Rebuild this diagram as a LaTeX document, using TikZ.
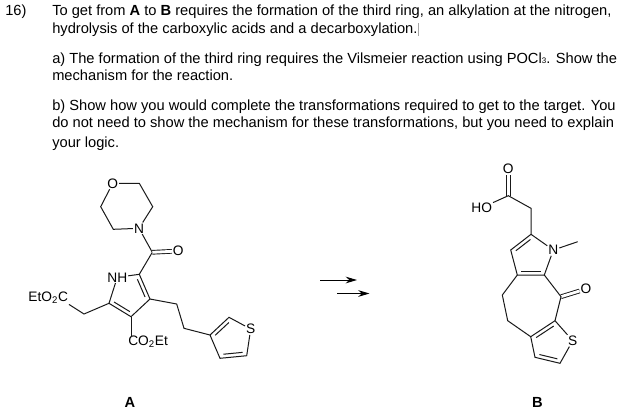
\documentclass[tikz,border=0pt]{standalone}
\usepackage{fontspec}
\setmainfont{Liberation Sans}
\usetikzlibrary{calc,arrows.meta}
\tikzset{
  para/.style={anchor=base west,inner sep=0pt,font=\fontsize{11pt}{13pt}\selectfont},
  atom/.style={inner sep=0.6pt,font=\fontsize{10.3pt}{12pt}\selectfont},
  bond/.style={line width=0.75pt,black!90},
  dbond/.style={line width=0.7pt,black!90,double,double distance=2.1pt},
  rxn/.style={line width=0.75pt,-{Stealth[length=8.5pt,width=5pt]}},
  mark label/.style={inner sep=0pt,font=\fontsize{11pt}{13pt}\selectfont\bfseries}
}
% inner line of a ring double bond: from, to, signed offset
\newcommand{\innerbond}[3]{\draw[bond] ($(#1)!.14!(#2)!#3!90:(#2)$) -- ($(#2)!.14!(#1)!-#3!90:(#1)$);}
\begin{document}
\begin{tikzpicture}[x=0.75pt,y=-0.75pt]
\useasboundingbox (0,0) rectangle (620,412);
\fill[white] (0,0) rectangle (620,412);
% question text
\node[para] (num) at (5,15.5) {16)};
\node[para] (l1) at (52,15.5) {To get from \textbf{A} to \textbf{B} requires the formation of the third ring, an alkylation at the nitrogen,};
\node[para] (l2) at (52,33) {hydrolysis of the carboxylic acids and a decarboxylation.};
\node[para] (l3) at (52,63) {a) The formation of the third ring requires the Vilsmeier reaction using POCl{\fontsize{6pt}{7pt}\selectfont 3}. Show the};
\node[para] (l4) at (52,80.5) {mechanism for the reaction.};
\node[para] (l5) at (52,110) {b) Show how you would complete the transformations required to get to the target. You};
\node[para] (l6) at (52,127.5) {do not need to show the mechanism for these transformations, but you need to explain};
\node[para] (l7) at (52,147) {your logic.};
\coordinate (curT) at (418,23);
\coordinate (curB) at (418,36);
\draw[black!35,line width=0.5pt] (curT) -- (curB);
% molecule A
\node[atom] (aO) at (112.7,183.3) {O};
\coordinate (am1) at (139.3,183.3);
\coordinate (am2) at (152.7,206.7);
\node[atom] (aN) at (139,228.3) {N};
\coordinate (am3) at (113.3,229.3);
\coordinate (am4) at (100.7,206.7);
\coordinate (aCO) at (152.3,252.3);
\node[atom] (aOx) at (178.3,251) {O};
\coordinate (aC2) at (139.3,274.3);
\node[atom] (aNH) at (117.3,277.3) {NH};
\coordinate (aC5) at (109,303.3);
\coordinate (aC4) at (131,316.7);
\coordinate (aC3) at (150,299);
\coordinate (aCH2) at (84,314);
\node[atom,anchor=east] (aEt) at (69,297.5) {EtO$_{\mathrm{2}}$C};
\node[atom,anchor=west,inner xsep=0pt] (aEster) at (128,342) {CO$_{\mathrm{2}}$Et};
\coordinate (aEsterC) at (131,337);
\coordinate (ach1) at (176.7,304);
\coordinate (ach2) at (184,328.3);
\coordinate (at3) at (210,335);
\coordinate (at2) at (229,317.3);
\node[atom] (aS) at (250.7,329) {S};
\coordinate (at5) at (246.7,355.7);
\coordinate (at4) at (220,358.3);
\draw[bond] (aO) -- (am1) -- (am2) -- (aN) -- (am3) -- (am4) -- (aO);
\draw[bond] (aN) -- (aCO) -- (aC2) -- (aNH) -- (aC5);
\draw[dbond] (aCO) -- (aOx);
\draw[bond] (aC2) -- (aC3) -- (aC4) -- (aC5);
\innerbond{aC2}{aC3}{-2.8pt}
\innerbond{aC4}{aC5}{-2.8pt}
\draw[bond] (aC5) -- (aCH2) -- (aEt.south east);
\draw[bond] (aC4) -- (aEsterC);
\draw[bond] (aC3) -- (ach1) -- (ach2) -- (at3) -- (at2) -- (aS) -- (at5) -- (at4) -- (at3);
\innerbond{at3}{at2}{-2.8pt}
\innerbond{at5}{at4}{-2.8pt}
\node[mark label] (labA) at (130,402) {A};
% reaction arrows
\coordinate (r1a) at (320,280);
\coordinate (r1b) at (357,280);
\coordinate (r2a) at (337,293.5);
\coordinate (r2b) at (369.5,293.5);
\draw[rxn] (r1a) -- (r1b);
\draw[rxn] (r2a) -- (r2b);
% molecule B
\node[atom] (bOt) at (508.3,169) {O};
\coordinate (bC) at (508.3,195.7);
\node[atom] (bHO) at (481.7,207.7) {HO};
\coordinate (bCH2) at (531,208.3);
\coordinate (bC2) at (531,234.3);
\node[atom] (bN) at (553.3,250) {N};
\coordinate (bMe) at (577.7,241.7);
\coordinate (bC3) at (510.7,250);
\coordinate (bC3a) at (517.3,275);
\coordinate (bC7a) at (544.3,275);
\coordinate (bCO) at (561,296.7);
\node[atom] (bOx) at (586,289) {O};
\coordinate (bc1) at (502.3,295);
\coordinate (bc2) at (507.7,320.7);
\coordinate (bt1) at (530.7,336.7);
\coordinate (bt2) at (555,320.7);
\node[atom] (bS) at (572.7,340.7) {S};
\coordinate (bt3) at (560,363.3);
\coordinate (bt4) at (535,357.3);
\draw[dbond] (bC) -- (bOt);
\draw[dbond] (bCO) -- (bOx);
\draw[bond] (bHO) -- (bC) -- (bCH2) -- (bC2) -- (bN) -- (bMe);
\draw[bond] (bC2) -- (bC3) -- (bC3a) -- (bC7a) -- (bN);
\innerbond{bC2}{bC3}{2.8pt}
\innerbond{bC3a}{bC7a}{2.8pt}
\draw[bond] (bC3a) -- (bc1) -- (bc2) -- (bt1) -- (bt2) -- (bCO) -- (bC7a);
\draw[bond] (bt2) -- (bS) -- (bt3) -- (bt4) -- (bt1);
\innerbond{bt1}{bt2}{-2.8pt}
\innerbond{bt4}{bt3}{2.8pt}
\node[mark label] (labB) at (537.3,402) {B};
\end{tikzpicture}
\end{document}
